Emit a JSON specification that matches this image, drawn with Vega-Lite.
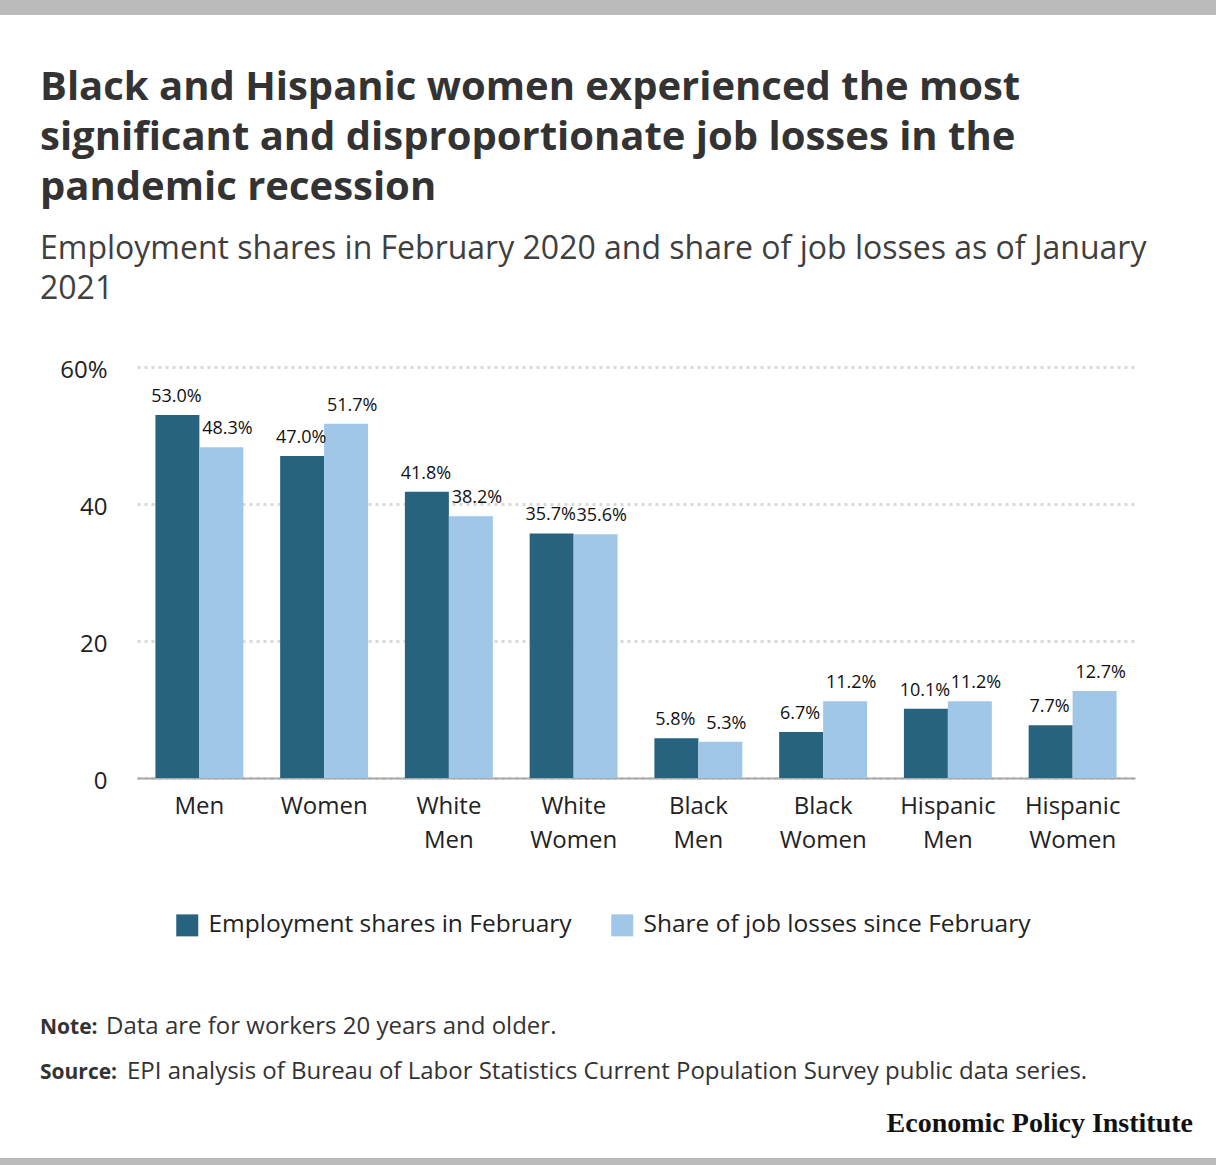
{
  "$schema": "https://vega.github.io/schema/vega-lite/v6.json",
  "autosize": {"type": "none"},
  "width": 998,
  "height": 411,
  "padding": {"left": 137, "top": 367, "right": 81, "bottom": 387},
  "background": "white",
  "title": {
    "text": ["Black and Hispanic women experienced the most", "significant and disproportionate job losses in the", "pandemic recession"],
    "subtitle": ["Employment shares in February 2020 and share of job losses as of January", "2021"],
    "anchor": "start",
    "frame": "group",
    "orient": "top",
    "dx": -97,
    "offset": -305,
    "font": "Open Sans",
    "fontSize": 40,
    "fontWeight": "bold",
    "color": "#333333",
    "lineHeight": 50,
    "subtitleFont": "Open Sans",
    "subtitleFontSize": 32,
    "subtitleColor": "#3f3f3f",
    "subtitleLineHeight": 40,
    "subtitlePadding": 26
  },
  "config": {
    "view": {"stroke": null},
    "font": "Open Sans"
  },
  "data": {
    "values": [
      {"group": "Men", "series": "Employment shares in February", "value": 53.0},
      {"group": "Men", "series": "Share of job losses since February", "value": 48.3},
      {"group": "Women", "series": "Employment shares in February", "value": 47.0},
      {"group": "Women", "series": "Share of job losses since February", "value": 51.7},
      {"group": "White Men", "series": "Employment shares in February", "value": 41.8},
      {"group": "White Men", "series": "Share of job losses since February", "value": 38.2},
      {"group": "White Women", "series": "Employment shares in February", "value": 35.7},
      {"group": "White Women", "series": "Share of job losses since February", "value": 35.6},
      {"group": "Black Men", "series": "Employment shares in February", "value": 5.8},
      {"group": "Black Men", "series": "Share of job losses since February", "value": 5.3},
      {"group": "Black Women", "series": "Employment shares in February", "value": 6.7},
      {"group": "Black Women", "series": "Share of job losses since February", "value": 11.2},
      {"group": "Hispanic Men", "series": "Employment shares in February", "value": 10.1},
      {"group": "Hispanic Men", "series": "Share of job losses since February", "value": 11.2},
      {"group": "Hispanic Women", "series": "Employment shares in February", "value": 7.7},
      {"group": "Hispanic Women", "series": "Share of job losses since February", "value": 12.7}
    ]
  },
  "layer": [
    {
      "mark": {"type": "bar"},
      "encoding": {
        "x": {
          "field": "group",
          "type": "nominal",
          "sort": ["Men", "Women", "White Men", "White Women", "Black Men", "Black Women", "Hispanic Men", "Hispanic Women"],
          "scale": {"paddingInner": 0.295, "paddingOuter": 0.1475},
          "axis": {
            "title": null,
            "domain": true,
            "domainColor": "#aaaaaa",
            "domainWidth": 2,
            "ticks": false,
            "labelAngle": 0,
            "labelPadding": 16,
            "labelFont": "Open Sans",
            "labelFontSize": 24,
            "labelLineHeight": 34,
            "labelColor": "#222222",
            "labelExpr": "split(datum.label, ' ')"
          }
        },
        "xOffset": {
          "field": "series",
          "type": "nominal",
          "sort": ["Employment shares in February", "Share of job losses since February"],
          "scale": {"paddingInner": 0, "paddingOuter": 0}
        },
        "y": {
          "field": "value",
          "type": "quantitative",
          "scale": {"domain": [0, 60], "nice": false},
          "axis": {
            "title": null,
            "values": [0, 20, 40, 60],
            "domain": false,
            "ticks": false,
            "labelPadding": 30,
            "labelOffset": 3,
            "labelFont": "Open Sans",
            "labelFontSize": 24,
            "labelColor": "#222222",
            "labelExpr": "datum.value == 60 ? '60%' : datum.label",
            "gridColor": "#d9d9d9",
            "gridDash": [3, 4],
            "gridWidth": 3
          }
        },
        "color": {
          "field": "series",
          "type": "nominal",
          "scale": {
            "domain": ["Employment shares in February", "Share of job losses since February"],
            "range": ["#27627f", "#a0c6e8"]
          },
          "legend": {
            "orient": "none",
            "legendX": 38,
            "legendY": 546,
            "direction": "horizontal",
            "title": null,
            "padding": 0,
            "symbolType": "square",
            "symbolSize": 484,
            "symbolStrokeWidth": 0,
            "symbolOpacity": 1,
            "labelFont": "Open Sans",
            "labelFontSize": 24.5,
            "labelColor": "#222222",
            "labelOffset": 9,
            "labelLimit": 600,
            "columnPadding": 38
          }
        }
      }
    },
    {
      "transform": [
        {"filter": "datum.series == 'Employment shares in February'"},
        {"calculate": "format(datum.value, '.1f') + '%'", "as": "label"}
      ],
      "mark": {"type": "text", "baseline": "bottom", "align": "center", "dx": -1, "dy": -9, "fontSize": 18, "font": "Open Sans", "color": "#111111"},
      "encoding": {
        "x": {"field": "group", "type": "nominal", "sort": ["Men", "Women", "White Men", "White Women", "Black Men", "Black Women", "Hispanic Men", "Hispanic Women"]},
        "xOffset": {"field": "series", "type": "nominal", "sort": ["Employment shares in February", "Share of job losses since February"]},
        "y": {"field": "value", "type": "quantitative"},
        "text": {"field": "label"}
      }
    },
    {
      "transform": [
        {"filter": "datum.series == 'Share of job losses since February'"},
        {"calculate": "format(datum.value, '.1f') + '%'", "as": "label"}
      ],
      "mark": {"type": "text", "baseline": "bottom", "align": "center", "dx": 6, "dy": -9, "fontSize": 18, "font": "Open Sans", "color": "#111111"},
      "encoding": {
        "x": {"field": "group", "type": "nominal", "sort": ["Men", "Women", "White Men", "White Women", "Black Men", "Black Women", "Hispanic Men", "Hispanic Women"]},
        "xOffset": {"field": "series", "type": "nominal", "sort": ["Employment shares in February", "Share of job losses since February"]},
        "y": {"field": "value", "type": "quantitative"},
        "text": {"field": "label"}
      }
    },
    {
      "data": {"values": [{}]},
      "mark": {"type": "rect", "color": "#bbbbbb"},
      "encoding": {"x": {"value": -137}, "x2": {"value": 1079}, "y": {"value": -367}, "y2": {"value": -352}}
    },
    {
      "data": {"values": [{}]},
      "mark": {"type": "rect", "color": "#bbbbbb"},
      "encoding": {"x": {"value": -137}, "x2": {"value": 1079}, "y": {"value": 791}, "y2": {"value": 798}}
    },
    {
      "data": {"values": [{}]},
      "mark": {"type": "text", "text": "Note:", "align": "left", "baseline": "alphabetic", "font": "Open Sans", "fontSize": 21, "fontWeight": "bold", "color": "#333333"},
      "encoding": {"x": {"value": -97}, "y": {"value": 667}}
    },
    {
      "data": {"values": [{}]},
      "mark": {"type": "text", "text": "Data are for workers 20 years and older.", "align": "left", "baseline": "alphabetic", "font": "Open Sans", "fontSize": 24, "color": "#333333"},
      "encoding": {"x": {"value": -31}, "y": {"value": 667}}
    },
    {
      "data": {"values": [{}]},
      "mark": {"type": "text", "text": "Source:", "align": "left", "baseline": "alphabetic", "font": "Open Sans", "fontSize": 21, "fontWeight": "bold", "color": "#333333"},
      "encoding": {"x": {"value": -97}, "y": {"value": 712}}
    },
    {
      "data": {"values": [{}]},
      "mark": {"type": "text", "text": "EPI analysis of Bureau of Labor Statistics Current Population Survey public data series.", "align": "left", "baseline": "alphabetic", "font": "Open Sans", "fontSize": 24, "color": "#333333"},
      "encoding": {"x": {"value": -10}, "y": {"value": 712}}
    },
    {
      "data": {"values": [{}]},
      "mark": {"type": "text", "text": "Economic Policy Institute", "align": "right", "baseline": "alphabetic", "font": "Liberation Serif", "fontSize": 28, "fontWeight": "bold", "color": "#111111"},
      "encoding": {"x": {"value": 1056}, "y": {"value": 765}}
    }
  ]
}
